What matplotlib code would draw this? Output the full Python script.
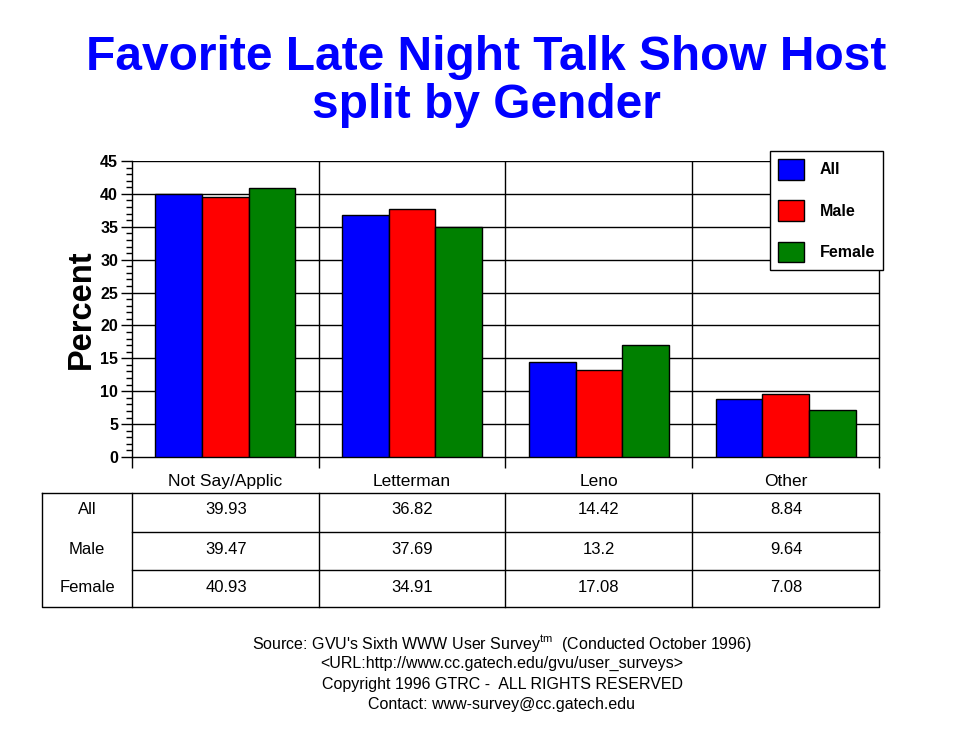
import matplotlib
matplotlib.use("Agg")
import matplotlib.pyplot as plt
from matplotlib.patches import Patch

plt.rcParams['font.family'] = ['Liberation Sans', 'DejaVu Sans']
plt.rcParams['mathtext.fontset'] = 'custom'
plt.rcParams['mathtext.rm'] = 'Liberation Sans'

# data
categories = ['Not Say/Applic', 'Letterman', 'Leno', 'Other']
series_names = ['All', 'Male', 'Female']
all_vals = [39.93, 36.82, 14.42, 8.84]
male_vals = [39.47, 37.69, 13.2, 9.64]
female_vals = [40.93, 34.91, 17.08, 7.08]
table_text = [['39.93', '36.82', '14.42', '8.84'],
              ['39.47', '37.69', '13.2', '9.64'],
              ['40.93', '34.91', '17.08', '7.08']]
colors = ['#0000FF', '#FF0000', '#008000']

W, H = 970, 736
fig = plt.figure(figsize=(W / 100, H / 100), dpi=100)


def px(x0, y0, x1, y1):
    # pixel box -> figure fraction rect
    return [x0 / W, 1 - y1 / H, (x1 - x0) / W, (y1 - y0) / H]


fig.text(486 / W, 1 - 58 / H, 'Favorite Late Night Talk Show Host', color='#0000FF',
         fontsize=34.5, fontweight='bold', ha='center', va='center')
fig.text(486 / W, 1 - 106 / H, 'split by Gender', color='#0000FF',
         fontsize=34.5, fontweight='bold', ha='center', va='center')

ax = fig.add_axes(px(132, 161, 879, 457))
width = 0.25
series = [all_vals, male_vals, female_vals]
for k, vals in enumerate(series):
    xs = [i + 0.5 + (k - 1) * width for i in range(len(categories))]
    ax.bar(xs, vals, width=width, color=colors[k], edgecolor='black',
           linewidth=1, label=series_names[k], zorder=3)

ax.set_xlim(0, 4)
ax.set_ylim(0, 45)
ax.set_yticks(range(0, 46, 5))
ax.set_yticks(range(0, 46), minor=True)
ax.set_yticklabels([str(v) for v in range(0, 46, 5)], fontsize=11.5, fontweight='bold')
ax.tick_params(axis='y', which='major', direction='out', length=8, width=1, pad=2)
ax.tick_params(axis='y', which='minor', direction='out', length=4, width=1)
for y in range(5, 46, 5):
    ax.axhline(y, color='black', lw=1, zorder=1)
for x in (1, 2, 3):
    ax.axvline(x, color='black', lw=1, zorder=1)
ax.set_xticks([0, 1, 2, 3, 4])
ax.set_xticklabels([])
ax.tick_params(axis='x', which='major', direction='out', length=8, width=1)
ax.set_xticks([i + 0.5 for i in range(4)], minor=True)
ax.set_xticklabels(categories, minor=True, fontsize=12.5)
ax.tick_params(axis='x', which='minor', length=0, pad=12)
ax.spines['top'].set_visible(False)
for s in ('left', 'bottom', 'right'):
    ax.spines[s].set_linewidth(1)
ax.set_ylabel('Percent', fontsize=23.5, fontweight='bold', labelpad=2)

handles = [Patch(facecolor=c, edgecolor='black', label=n) for c, n in zip(colors, series_names)]
leg = fig.legend(handles=handles, loc='upper left', bbox_to_anchor=(770 / W, 1 - 151 / H),
                 frameon=True, fancybox=False, edgecolor='black', framealpha=1,
                 prop={'size': 11.5, 'weight': 'bold'},
                 handlelength=1.6, handleheight=1.6, labelspacing=1.3,
                 borderpad=0.5, handletextpad=1.0, borderaxespad=0)
leg.get_frame().set_linewidth(1)
leg.set_zorder(10)

# table below the chart
tax = fig.add_axes(px(42, 493, 879, 607))
tax.set_xlim(42, 879)
tax.set_ylim(607, 493)
tax.axis('off')
tax.plot([42, 879, 879, 42, 42], [493, 493, 607, 607, 493], color='black', lw=1, clip_on=False)
for xv in (132, 319, 505, 692):
    tax.plot([xv, xv], [493, 607], color='black', lw=1, clip_on=False)
row_lines = [493, 532, 570, 607]
for yv in row_lines[1:-1]:
    tax.plot([132, 879], [yv, yv], color='black', lw=1, clip_on=False)
col_centers = [226, 412, 599, 786]
for r, name in enumerate(series_names):
    yc = row_lines[r] + 17
    tax.text(87, yc, name, ha='center', va='center', fontsize=12)
    for c, val in enumerate(table_text[r]):
        tax.text(col_centers[c], yc, val, ha='center', va='center', fontsize=12)

fig.text(502 / W, 1 - 644 / H, "Source: GVU's Sixth WWW User Survey$^{\\mathrm{tm}}$  (Conducted October 1996)",
         ha='center', va='center', fontsize=11.5)
fig.text(502 / W, 1 - 663 / H, '<URL:http://www.cc.gatech.edu/gvu/user_surveys>',
         ha='center', va='center', fontsize=11.5)
fig.text(502 / W, 1 - 684 / H, 'Copyright 1996 GTRC -  ALL RIGHTS RESERVED',
         ha='center', va='center', fontsize=11.5)
fig.text(502 / W, 1 - 705 / H, 'Contact: www-survey@cc.gatech.edu',
         ha='center', va='center', fontsize=11.5)

fig.savefig('out.png', dpi=100)
